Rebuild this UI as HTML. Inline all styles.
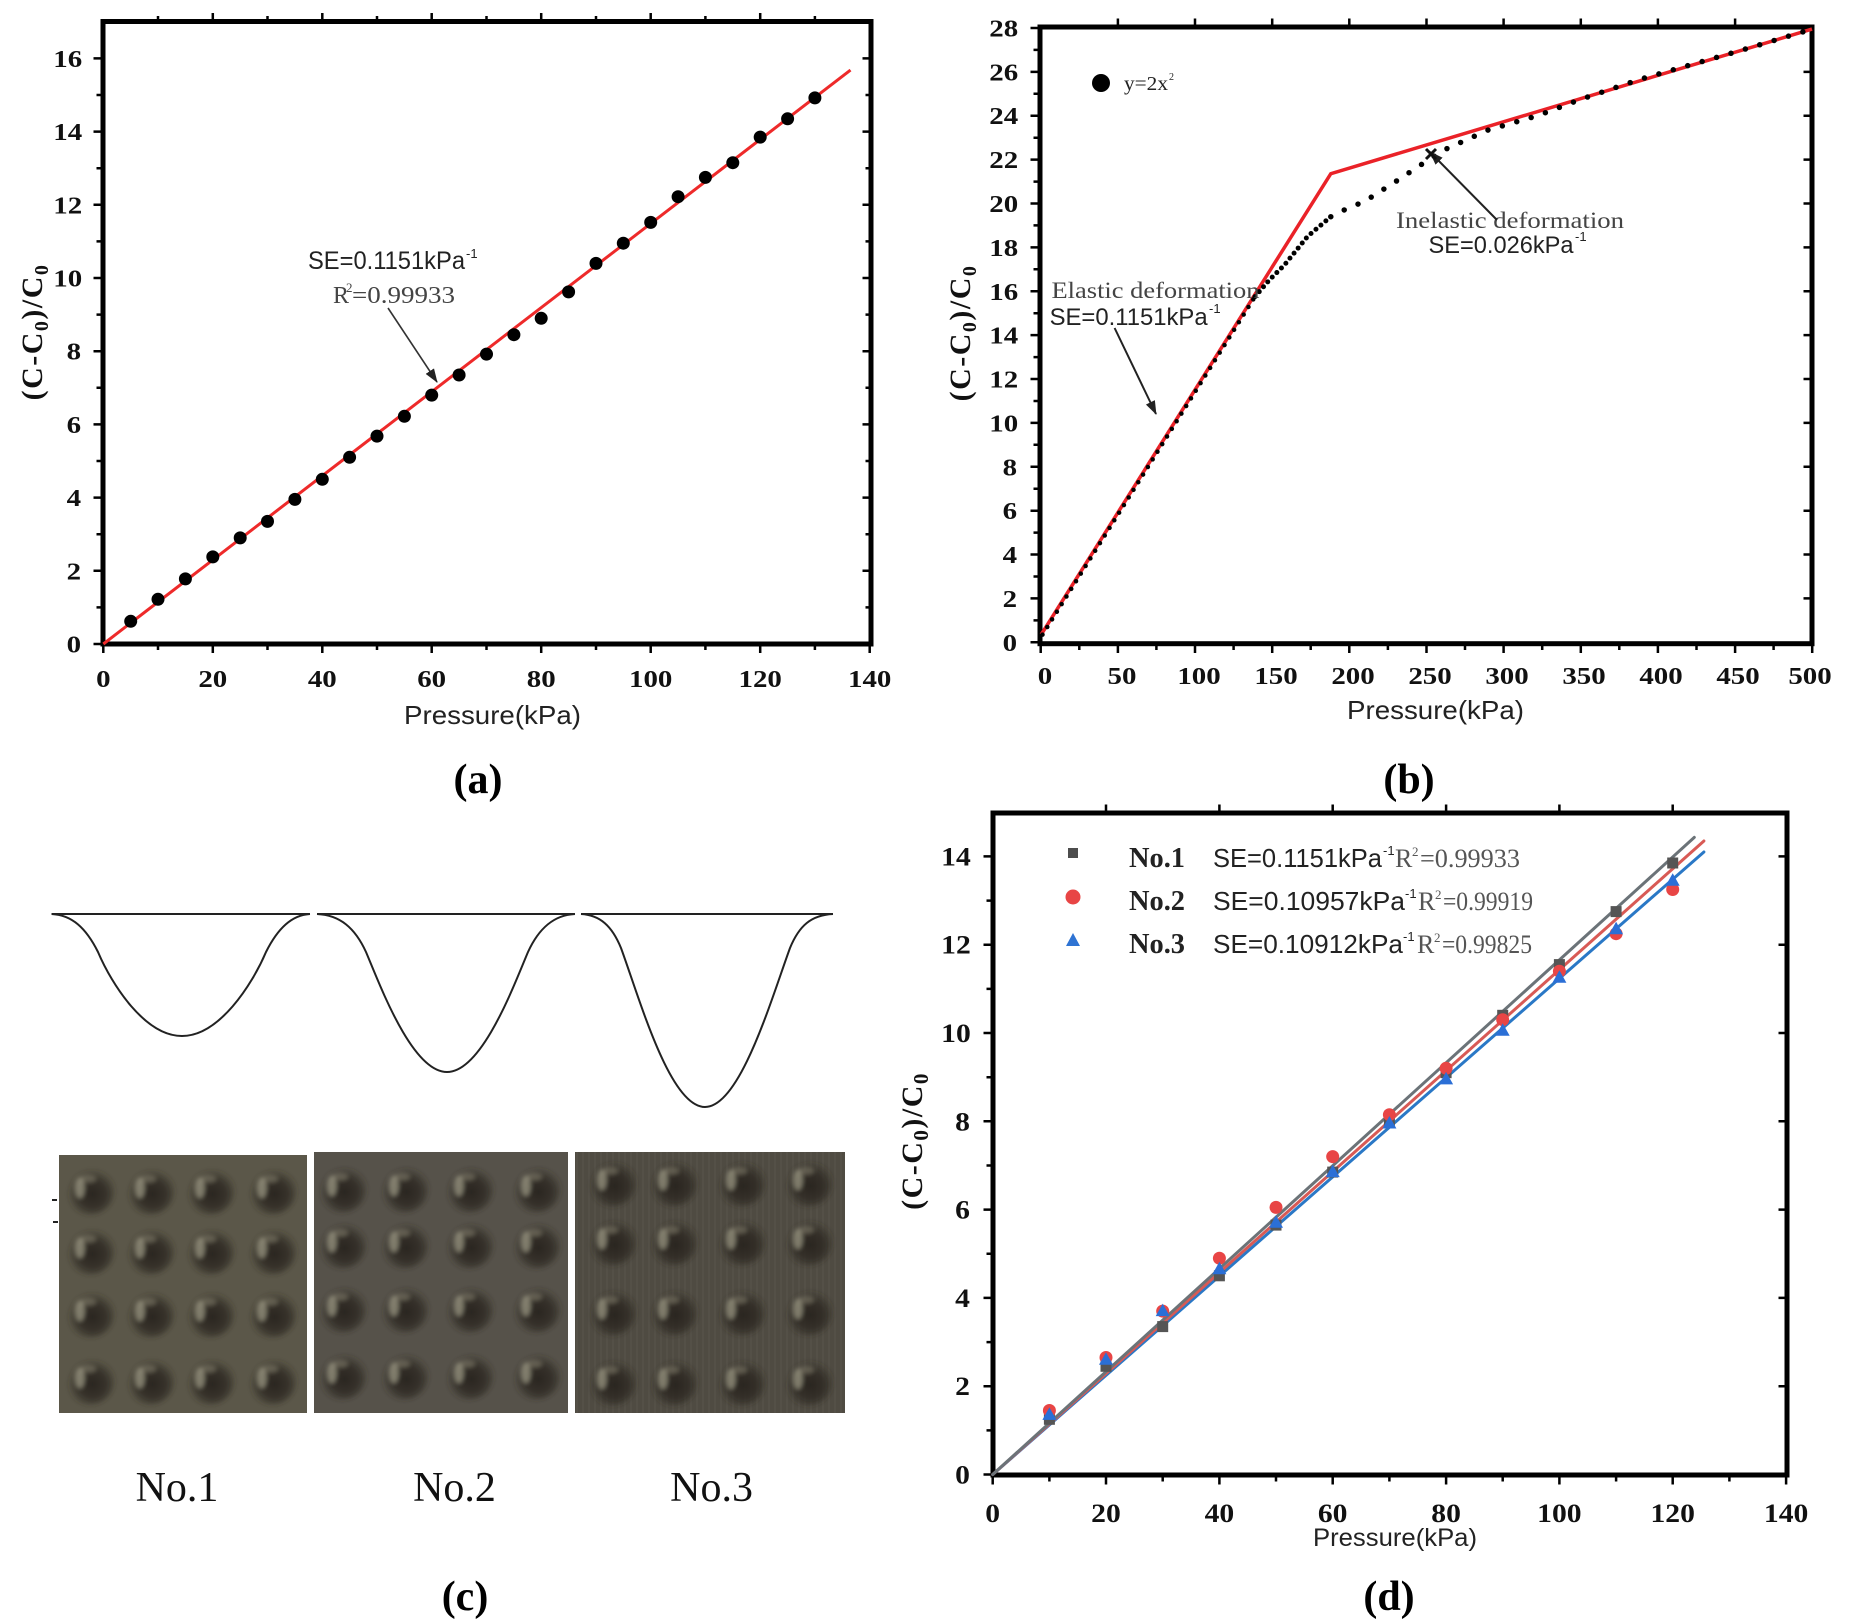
<!DOCTYPE html>
<html>
<head>
<meta charset="utf-8">
<style>
html,body{margin:0;padding:0;background:#fff;}
svg{display:block;}
.serif{font-family:"Liberation Serif","Times New Roman",serif;}
.sans{font-family:"Liberation Sans",Arial,sans-serif;}
.tk{font-family:"Liberation Serif",serif;font-weight:bold;font-size:24.5px;fill:#111;transform-box:fill-box;transform-origin:center;transform:scaleX(1.18);}
.tkd{font-family:"Liberation Serif",serif;font-weight:bold;font-size:26px;fill:#111;transform-box:fill-box;transform-origin:center;transform:scaleX(1.14);}
.pl{font-family:"Liberation Serif",serif;font-weight:bold;font-size:42px;fill:#000;}
.yl{font-family:"Liberation Serif",serif;font-weight:bold;font-size:30px;fill:#111;letter-spacing:1.5px;}
</style>
</head>
<body>
<svg width="1850" height="1621" viewBox="0 0 1850 1621" xmlns="http://www.w3.org/2000/svg">
<defs>
<marker id="ah" markerWidth="14" markerHeight="12" refX="13" refY="6" orient="auto" markerUnits="userSpaceOnUse"><path d="M0,1 L14,6 L0,11 z" fill="#222"/></marker>
<radialGradient id="bg1" cx="0.55" cy="0.58" r="0.5"><stop offset="0" stop-color="#24211a" stop-opacity="0.95"/><stop offset="0.6" stop-color="#2e2a22" stop-opacity="0.75"/><stop offset="1" stop-color="#2e2a22" stop-opacity="0"/></radialGradient>
<filter id="blur" x="-30%" y="-30%" width="160%" height="160%"><feGaussianBlur stdDeviation="2"/></filter>
<g id="bump" filter="url(#blur)"><circle r="25" fill="url(#bg1)"/><ellipse cx="-10" cy="-2" rx="4.5" ry="10" fill="#bdb9a2" opacity="0.55"/><ellipse cx="-2" cy="-11" rx="8" ry="3.5" fill="#aeaa93" opacity="0.35"/></g>
<pattern id="stripes" width="6" height="10" patternUnits="userSpaceOnUse"><rect width="6" height="10" fill="#4f4b42"/><rect width="2" height="10" fill="#59554b" opacity="0.5"/></pattern>
</defs>

<!-- ================= PANEL (a) ================= -->
<rect x="103" y="21.5" width="768" height="622.5" fill="none" stroke="#000" stroke-width="5"/>
<g stroke="#000" stroke-width="2.5" fill="none">
<path d="M103.3,646v7M212.8,646v7M322.3,646v7M431.7,646v7M541.2,646v7M650.7,646v7M760.2,646v7M869.7,646v7"/>
<path d="M158,646v4M267.5,646v4M377,646v4M486.5,646v4M596,646v4M705.4,646v4M814.9,646v4"/>
<path d="M212.8,19v-6M322.3,19v-6M431.7,19v-6M541.2,19v-6M650.7,19v-6M760.2,19v-6"/>
<path d="M158,19v-3M267.5,19v-3M377,19v-3M486.5,19v-3M596,19v-3M705.4,19v-3M814.9,19v-3"/>
<path d="M100.5,644h-7M100.5,570.8h-7M100.5,497.6h-7M100.5,424.4h-7M100.5,351.2h-7M100.5,278h-7M100.5,204.8h-7M100.5,131.6h-7M100.5,58.4h-7"/>
<path d="M100.5,607.4h-4M100.5,534.2h-4M100.5,461h-4M100.5,387.8h-4M100.5,314.6h-4M100.5,241.4h-4M100.5,168.2h-4M100.5,95h-4"/>
<path d="M868.5,570.8h-6M868.5,497.6h-6M868.5,424.4h-6M868.5,351.2h-6M868.5,278h-6M868.5,204.8h-6M868.5,131.6h-6M868.5,58.4h-6"/>
<path d="M868.5,607.4h-3M868.5,534.2h-3M868.5,461h-3M868.5,387.8h-3M868.5,314.6h-3M868.5,241.4h-3M868.5,168.2h-3M868.5,95h-3"/>
</g>
<g text-anchor="middle">
<text class="tk" x="103.3" y="687">0</text><text class="tk" x="212.8" y="687">20</text><text class="tk" x="322.3" y="687">40</text><text class="tk" x="431.7" y="687">60</text><text class="tk" x="541.2" y="687">80</text><text class="tk" x="650.7" y="687">100</text><text class="tk" x="760.2" y="687">120</text><text class="tk" x="869.7" y="687">140</text>
</g>
<g text-anchor="end">
<text class="tk" x="80" y="652.5">0</text><text class="tk" x="80" y="579.3">2</text><text class="tk" x="80" y="506.1">4</text><text class="tk" x="80" y="432.9">6</text><text class="tk" x="80" y="359.7">8</text><text class="tk" x="80" y="286.5">10</text><text class="tk" x="80" y="213.3">12</text><text class="tk" x="80" y="140.1">14</text><text class="tk" x="80" y="66.9">16</text>
</g>
<line x1="103.3" y1="644" x2="850.5" y2="70.1" stroke="#ee2a2a" stroke-width="3"/>
<g fill="#000">
<circle cx="130.7" cy="621.3" r="6.5"/><circle cx="158" cy="599.3" r="6.5"/><circle cx="185.4" cy="578.9" r="6.5"/><circle cx="212.8" cy="556.9" r="6.5"/><circle cx="240.2" cy="537.9" r="6.5"/><circle cx="267.5" cy="521.4" r="6.5"/><circle cx="294.9" cy="499.4" r="6.5"/><circle cx="322.3" cy="479.3" r="6.5"/><circle cx="349.6" cy="457.3" r="6.5"/><circle cx="377" cy="436.1" r="6.5"/><circle cx="404.4" cy="416.3" r="6.5"/><circle cx="431.7" cy="395.1" r="6.5"/><circle cx="459.1" cy="375" r="6.5"/><circle cx="486.5" cy="354.1" r="6.5"/><circle cx="513.9" cy="334.7" r="6.5"/><circle cx="541.2" cy="318.3" r="6.5"/><circle cx="568.6" cy="291.9" r="6.5"/><circle cx="596" cy="263.4" r="6.5"/><circle cx="623.3" cy="243.2" r="6.5"/><circle cx="650.7" cy="222.4" r="6.5"/><circle cx="678.1" cy="196.7" r="6.5"/><circle cx="705.4" cy="177.4" r="6.5"/><circle cx="732.8" cy="162.7" r="6.5"/><circle cx="760.2" cy="137.1" r="6.5"/><circle cx="787.6" cy="118.8" r="6.5"/><circle cx="814.9" cy="97.9" r="6.5"/>
</g>
<text class="sans" x="308" y="269" font-size="25" fill="#222" textLength="157" lengthAdjust="spacingAndGlyphs">SE=0.1151kPa</text>
<text class="sans" x="466" y="258" font-size="13" fill="#222">-1</text>
<text class="serif" x="333" y="303" font-size="24" fill="#444">R</text>
<text class="serif" x="346" y="292" font-size="13" fill="#444">2</text>
<text class="serif" x="352" y="303" font-size="24" fill="#444" textLength="103" lengthAdjust="spacingAndGlyphs">=0.99933</text>
<line x1="388" y1="308" x2="437" y2="382" stroke="#333" stroke-width="1.6" marker-end="url(#ah)"/>
<text class="sans" x="492.5" y="724" font-size="26" fill="#222" text-anchor="middle" textLength="177" lengthAdjust="spacingAndGlyphs">Pressure(kPa)</text>
<text class="yl" transform="translate(42,332) rotate(-90)" text-anchor="middle">(C-C<tspan font-size="20" dy="6">0</tspan><tspan dy="-6">)/C</tspan><tspan font-size="20" dy="6">0</tspan></text>
<text class="pl" x="478" y="793" text-anchor="middle">(a)</text>

<!-- ================= PANEL (b) ================= -->
<rect x="1040" y="27" width="772" height="616.7" fill="none" stroke="#000" stroke-width="5"/>
<g stroke="#000" stroke-width="2.5" fill="none">
<path d="M1040.7,646v7M1117.9,646v7M1195,646v7M1272.2,646v7M1349.3,646v7M1426.5,646v7M1503.6,646v7M1580.8,646v7M1657.9,646v7M1735.1,646v7M1812.2,646v7"/>
<path d="M1079.3,646v4M1156.4,646v4M1233.6,646v4M1310.7,646v4M1387.9,646v4M1465,646v4M1542.2,646v4M1619.3,646v4M1696.5,646v4M1773.6,646v4"/>
<path d="M1117.9,24.5v-6M1195,24.5v-6M1272.2,24.5v-6M1349.3,24.5v-6M1426.5,24.5v-6M1503.6,24.5v-6M1580.8,24.5v-6M1657.9,24.5v-6M1735.1,24.5v-6"/>
<path d="M1037.5,642.3h-7M1037.5,598.4h-7M1037.5,554.5h-7M1037.5,510.7h-7M1037.5,466.8h-7M1037.5,422.9h-7M1037.5,379h-7M1037.5,335.1h-7M1037.5,291.3h-7M1037.5,247.4h-7M1037.5,203.5h-7M1037.5,159.6h-7M1037.5,115.7h-7M1037.5,71.9h-7M1037.5,28h-7"/>
<path d="M1037.5,620.4h-4M1037.5,576.5h-4M1037.5,532.6h-4M1037.5,488.7h-4M1037.5,444.8h-4M1037.5,401h-4M1037.5,357.1h-4M1037.5,313.2h-4M1037.5,269.3h-4M1037.5,225.4h-4M1037.5,181.6h-4M1037.5,137.7h-4M1037.5,93.8h-4M1037.5,49.9h-4"/>
<path d="M1809.5,598.4h-6M1809.5,554.5h-6M1809.5,510.7h-6M1809.5,466.8h-6M1809.5,422.9h-6M1809.5,379h-6M1809.5,335.1h-6M1809.5,291.3h-6M1809.5,247.4h-6M1809.5,203.5h-6M1809.5,159.6h-6M1809.5,115.7h-6M1809.5,71.9h-6"/>
</g>
<g text-anchor="middle">
<text class="tk" x="1045" y="684">0</text><text class="tk" x="1122" y="684">50</text><text class="tk" x="1199" y="684">100</text><text class="tk" x="1276" y="684">150</text><text class="tk" x="1353" y="684">200</text><text class="tk" x="1430" y="684">250</text><text class="tk" x="1507" y="684">300</text><text class="tk" x="1584" y="684">350</text><text class="tk" x="1661" y="684">400</text><text class="tk" x="1738" y="684">450</text><text class="tk" x="1810" y="684">500</text>
</g>
<g text-anchor="end">
<text class="tk" x="1016" y="650.8">0</text><text class="tk" x="1016" y="606.9">2</text><text class="tk" x="1016" y="563">4</text><text class="tk" x="1016" y="519.2">6</text><text class="tk" x="1016" y="475.3">8</text><text class="tk" x="1016" y="431.4">10</text><text class="tk" x="1016" y="387.5">12</text><text class="tk" x="1016" y="343.6">14</text><text class="tk" x="1016" y="299.8">16</text><text class="tk" x="1016" y="255.9">18</text><text class="tk" x="1016" y="212">20</text><text class="tk" x="1016" y="168.1">22</text><text class="tk" x="1016" y="124.2">24</text><text class="tk" x="1016" y="80.4">26</text><text class="tk" x="1016" y="36.5">28</text>
</g>
<polyline points="1041.2,634.6 1330.8,173.7 1812,29.1" fill="none" stroke="#ea2228" stroke-width="3.5" stroke-linejoin="miter"/>
<!-- dotted curve -->
<g fill="none" stroke="#000" stroke-linecap="round">
<path d="M1042.5,634.6 L1255,296.6" stroke-width="4.5" stroke-dasharray="0 9"/>
<path d="M1255,296.6 L1269.1,280.3 L1284.5,264.9 L1307.6,236.4 L1330.8,216.7" stroke-width="5" stroke-dasharray="0 6.5"/>
<path d="M1330.8,216.7 L1346.2,209 L1364.7,201.3 L1395.6,181.6 L1441.9,150.9 L1488.2,130 L1537.5,115.7 L1580.8,99.3 L1639.4,79.5 L1735.1,52.1 L1812.2,29.1" stroke-width="5.5" stroke-dasharray="0 15"/>
</g>
<circle cx="1101" cy="83" r="9" fill="#000"/>
<text class="serif" x="1124" y="90" font-size="20" fill="#222" textLength="44" lengthAdjust="spacingAndGlyphs">y=2x</text>
<text class="serif" x="1169" y="80" font-size="10" fill="#222">2</text>
<text class="serif" x="1051.5" y="298" font-size="23" fill="#444" textLength="208" lengthAdjust="spacingAndGlyphs">Elastic deformation</text>
<text class="sans" x="1049.6" y="325" font-size="24" fill="#222" textLength="158" lengthAdjust="spacingAndGlyphs">SE=0.1151kPa</text>
<text class="sans" x="1209" y="313" font-size="13" fill="#222">-1</text>
<line x1="1114.6" y1="328" x2="1156" y2="414" stroke="#222" stroke-width="2" marker-end="url(#ah)"/>
<text class="serif" x="1396" y="228" font-size="23" fill="#444" textLength="228" lengthAdjust="spacingAndGlyphs">Inelastic deformation</text>
<text class="sans" x="1428.5" y="253" font-size="24" fill="#222" textLength="145" lengthAdjust="spacingAndGlyphs">SE=0.026kPa</text>
<text class="sans" x="1575" y="241" font-size="13" fill="#222">-1</text>
<line x1="1497" y1="220" x2="1430" y2="152" stroke="#222" stroke-width="2" marker-end="url(#ah)"/>
<path d="M1426,149 l10,10 M1436,149 l-10,10" stroke="#111" stroke-width="3"/>
<text class="sans" x="1435.5" y="719" font-size="26" fill="#222" text-anchor="middle" textLength="177" lengthAdjust="spacingAndGlyphs">Pressure(kPa)</text>
<text class="yl" transform="translate(970,333) rotate(-90)" text-anchor="middle">(C-C<tspan font-size="20" dy="6">0</tspan><tspan dy="-6">)/C</tspan><tspan font-size="20" dy="6">0</tspan></text>
<text class="pl" x="1409" y="793" text-anchor="middle">(b)</text>

<!-- ================= PANEL (c) ================= -->
<g fill="none" stroke="#222" stroke-width="2">
<path d="M51.6,914 H310 M317,914 H575 M581,914 H833"/>
<path d="M51.6,914 C72,915 86,928 98,952 C112,985 145,1036 182,1036 C219,1036 252,985 266,952 C278,928 292,915 310,914"/>
<path d="M317,914 C340,915 355,928 366,952 C380,985 412,1072 447,1072 C482,1072 514,985 528,952 C539,928 554,915 575,914"/>
<path d="M581,914 C600,915 612,926 621,948 C640,1000 670,1107 705,1107 C740,1107 771,1000 790,948 C799,926 811,915 833,914"/>
</g>
<path d="M52,1200 h5 M53,1222 h5" stroke="#222" stroke-width="2"/>
<rect x="59" y="1155" width="248" height="258" fill="#5b5749"/>
<rect x="314" y="1152" width="254" height="261" fill="#56524a"/>
<rect x="575" y="1152" width="270" height="261" fill="url(#stripes)"/>
<g>
<use href="#bump" x="90" y="1190"/><use href="#bump" x="150" y="1190"/><use href="#bump" x="210" y="1190"/><use href="#bump" x="272" y="1190"/>
<use href="#bump" x="90" y="1250"/><use href="#bump" x="150" y="1250"/><use href="#bump" x="210" y="1250"/><use href="#bump" x="272" y="1250"/>
<use href="#bump" x="90" y="1313"/><use href="#bump" x="150" y="1313"/><use href="#bump" x="210" y="1313"/><use href="#bump" x="272" y="1313"/>
<use href="#bump" x="90" y="1380"/><use href="#bump" x="150" y="1380"/><use href="#bump" x="210" y="1380"/><use href="#bump" x="272" y="1380"/>
<use href="#bump" x="342" y="1188"/><use href="#bump" x="404" y="1188"/><use href="#bump" x="469" y="1188"/><use href="#bump" x="536" y="1188"/>
<use href="#bump" x="342" y="1244"/><use href="#bump" x="404" y="1244"/><use href="#bump" x="469" y="1244"/><use href="#bump" x="536" y="1244"/>
<use href="#bump" x="342" y="1308"/><use href="#bump" x="404" y="1308"/><use href="#bump" x="469" y="1308"/><use href="#bump" x="536" y="1308"/>
<use href="#bump" x="342" y="1375"/><use href="#bump" x="404" y="1375"/><use href="#bump" x="469" y="1375"/><use href="#bump" x="536" y="1375"/>
<use href="#bump" x="612" y="1182"/><use href="#bump" x="673" y="1182"/><use href="#bump" x="741" y="1182"/><use href="#bump" x="808" y="1182"/>
<use href="#bump" x="612" y="1241"/><use href="#bump" x="673" y="1241"/><use href="#bump" x="741" y="1241"/><use href="#bump" x="808" y="1241"/>
<use href="#bump" x="612" y="1311"/><use href="#bump" x="673" y="1311"/><use href="#bump" x="741" y="1311"/><use href="#bump" x="808" y="1311"/>
<use href="#bump" x="612" y="1381"/><use href="#bump" x="673" y="1381"/><use href="#bump" x="741" y="1381"/><use href="#bump" x="808" y="1381"/>
</g>
<g class="serif" font-size="42" fill="#111" text-anchor="middle">
<text x="177" y="1501">No.1</text><text x="454.5" y="1501">No.2</text><text x="711.6" y="1501">No.3</text>
</g>
<text class="pl" x="465" y="1610" text-anchor="middle">(c)</text>

<!-- ================= PANEL (d) ================= -->
<rect x="993" y="813" width="794" height="662" fill="none" stroke="#000" stroke-width="5"/>
<g stroke="#000" stroke-width="2.5" fill="none">
<path d="M992.7,1477.5v7M1106,1477.5v7M1219.4,1477.5v7M1332.7,1477.5v7M1446.1,1477.5v7M1559.4,1477.5v7M1672.7,1477.5v7M1786.1,1477.5v7"/>
<path d="M1049.4,1477.5v4M1162.7,1477.5v4M1276,1477.5v4M1389.4,1477.5v4M1502.7,1477.5v4M1616.1,1477.5v4M1729.4,1477.5v4"/>
<path d="M1106,810.5v-6M1219.4,810.5v-6M1332.7,810.5v-6M1446.1,810.5v-6M1559.4,810.5v-6M1672.7,810.5v-6"/>
<path d="M990.5,1474.5h-7M990.5,1386.2h-7M990.5,1297.9h-7M990.5,1209.6h-7M990.5,1121.3h-7M990.5,1033h-7M990.5,944.7h-7M990.5,856.4h-7"/>
<path d="M990.5,1430.4h-4M990.5,1342.1h-4M990.5,1253.8h-4M990.5,1165.5h-4M990.5,1077.2h-4M990.5,988.9h-4M990.5,900.6h-4"/>
<path d="M1784.5,1386.2h-6M1784.5,1297.9h-6M1784.5,1209.6h-6M1784.5,1121.3h-6M1784.5,1033h-6M1784.5,944.7h-6M1784.5,856.4h-6"/>
</g>
<g text-anchor="middle">
<text class="tkd" x="992.7" y="1522">0</text><text class="tkd" x="1106" y="1522">20</text><text class="tkd" x="1219.4" y="1522">40</text><text class="tkd" x="1332.7" y="1522">60</text><text class="tkd" x="1446.1" y="1522">80</text><text class="tkd" x="1559.4" y="1522">100</text><text class="tkd" x="1672.7" y="1522">120</text><text class="tkd" x="1786.1" y="1522">140</text>
</g>
<g text-anchor="end">
<text class="tkd" x="969" y="1483.5">0</text><text class="tkd" x="969" y="1395.2">2</text><text class="tkd" x="969" y="1306.9">4</text><text class="tkd" x="969" y="1218.6">6</text><text class="tkd" x="969" y="1130.3">8</text><text class="tkd" x="969" y="1042">10</text><text class="tkd" x="969" y="953.7">12</text><text class="tkd" x="969" y="865.4">14</text>
</g>
<g stroke-width="3" stroke-linecap="round">
<line x1="992.7" y1="1474.5" x2="1703.9" y2="852" stroke="#2a78c6"/>
<line x1="992.7" y1="1474.5" x2="1703.9" y2="841" stroke="#d85a55"/>
<line x1="992.7" y1="1474.5" x2="1694.3" y2="837.4" stroke="#6b7378"/>
</g>
<g fill="#555">
<rect x="1043.9" y="1413.8" width="11" height="11"/><rect x="1100.5" y="1360.8" width="11" height="11"/><rect x="1157.2" y="1321.1" width="11" height="11"/><rect x="1213.9" y="1270.3" width="11" height="11"/><rect x="1270.5" y="1219.6" width="11" height="11"/><rect x="1327.2" y="1166.6" width="11" height="11"/><rect x="1383.9" y="1115.8" width="11" height="11"/><rect x="1440.6" y="1067.2" width="11" height="11"/><rect x="1497.2" y="1009.8" width="11" height="11"/><rect x="1553.9" y="959.1" width="11" height="11"/><rect x="1610.6" y="906.1" width="11" height="11"/><rect x="1667.2" y="857.5" width="11" height="11"/>
</g>
<g fill="#e84545">
<circle cx="1049.4" cy="1410.5" r="6.5"/><circle cx="1106" cy="1357.5" r="6.5"/><circle cx="1162.7" cy="1311.1" r="6.5"/><circle cx="1219.4" cy="1258.2" r="6.5"/><circle cx="1276" cy="1207.4" r="6.5"/><circle cx="1332.7" cy="1156.6" r="6.5"/><circle cx="1389.4" cy="1114.7" r="6.5"/><circle cx="1446.1" cy="1068.3" r="6.5"/><circle cx="1502.7" cy="1019.7" r="6.5"/><circle cx="1559.4" cy="971.2" r="6.5"/><circle cx="1616.1" cy="933.7" r="6.5"/><circle cx="1672.7" cy="889.5" r="6.5"/>
</g>
<g fill="#2b6fd6">
<polygon points="1049.4,1407.4 1042.4,1419.9 1056.4,1419.9"/><polygon points="1106,1352.2 1099,1364.7 1113,1364.7"/><polygon points="1162.7,1303.6 1155.7,1316.1 1169.7,1316.1"/><polygon points="1219.4,1261.7 1212.4,1274.2 1226.4,1274.2"/><polygon points="1276,1215.3 1269,1227.8 1283,1227.8"/><polygon points="1332.7,1164.6 1325.7,1177.1 1339.7,1177.1"/><polygon points="1389.4,1116 1382.4,1128.5 1396.4,1128.5"/><polygon points="1446.1,1071.9 1439.1,1084.4 1453.1,1084.4"/><polygon points="1502.7,1023.3 1495.7,1035.8 1509.7,1035.8"/><polygon points="1559.4,970.3 1552.4,982.8 1566.4,982.8"/><polygon points="1616.1,921.7 1609.1,934.2 1623.1,934.2"/><polygon points="1672.7,873.2 1665.7,885.7 1679.7,885.7"/>
</g>
<!-- legend -->
<rect x="1068" y="848" width="10" height="10" fill="#4d4d4d"/>
<circle cx="1073" cy="897" r="7.5" fill="#e84545"/>
<polygon points="1073,933 1066,946 1080,946" fill="#2e73d3"/>
<g class="serif" font-weight="bold" font-size="29" fill="#222">
<text x="1129" y="867" textLength="56" lengthAdjust="spacingAndGlyphs">No.1</text>
<text x="1129" y="910" textLength="56" lengthAdjust="spacingAndGlyphs">No.2</text>
<text x="1129" y="953" textLength="56" lengthAdjust="spacingAndGlyphs">No.3</text>
</g>
<g class="sans" font-size="26" fill="#222">
<text x="1213" y="867" textLength="169" lengthAdjust="spacingAndGlyphs">SE=0.1151kPa</text>
<text x="1213" y="910" textLength="192" lengthAdjust="spacingAndGlyphs">SE=0.10957kPa</text>
<text x="1213" y="953" textLength="190" lengthAdjust="spacingAndGlyphs">SE=0.10912kPa</text>
</g>
<g class="sans" font-size="13" fill="#222">
<text x="1383" y="855">-1</text><text x="1405" y="898">-1</text><text x="1403" y="941">-1</text>
</g>
<g class="serif" font-size="26" fill="#555">
<text x="1395" y="867">R</text><text x="1412" y="856" font-size="13">2</text><text x="1420" y="867" textLength="100" lengthAdjust="spacingAndGlyphs">=0.99933</text>
<text x="1418" y="910">R</text><text x="1435" y="899" font-size="13">2</text><text x="1443" y="910" textLength="90" lengthAdjust="spacingAndGlyphs">=0.99919</text>
<text x="1417" y="953">R</text><text x="1434" y="942" font-size="13">2</text><text x="1442" y="953" textLength="90" lengthAdjust="spacingAndGlyphs">=0.99825</text>
</g>
<text class="sans" x="1395" y="1546" font-size="25" fill="#222" text-anchor="middle" textLength="164" lengthAdjust="spacingAndGlyphs">Pressure(kPa)</text>
<text class="yl" transform="translate(922,1141) rotate(-90)" text-anchor="middle" font-size="32" letter-spacing="2.5">(C-C<tspan font-size="21" dy="6">0</tspan><tspan dy="-6">)/C</tspan><tspan font-size="21" dy="6">0</tspan></text>
<text class="pl" x="1389" y="1610" text-anchor="middle">(d)</text>
</svg>
</body>
</html>
